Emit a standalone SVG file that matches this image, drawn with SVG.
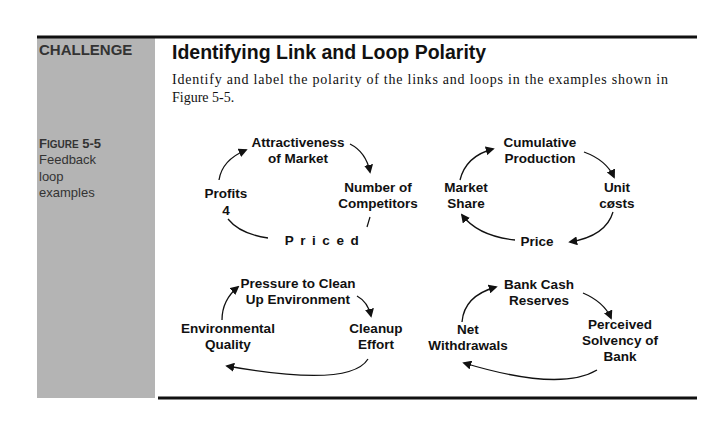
<svg xmlns="http://www.w3.org/2000/svg" width="712" height="438" viewBox="0 0 712 438">
<style>
.n{font-family:"Liberation Sans",Arial,sans-serif;font-weight:bold;font-size:13.5px;fill:#111;text-anchor:middle}
.c{fill:none;stroke:#111;stroke-width:1.3;marker-end:url(#a)}
.s{font-family:"Liberation Sans",Arial,sans-serif;font-size:13px;fill:#333}
</style>
<defs><marker id="a" viewBox="0 0 10 10" refX="8" refY="5" markerWidth="9" markerHeight="9" markerUnits="userSpaceOnUse" orient="auto"><path d="M0,0L10,5L0,10z" fill="#111"/></marker></defs>
<rect width="712" height="438" fill="#fff"/>
<rect x="37" y="37" width="118" height="361" fill="#b4b4b4"/>
<line x1="37" y1="37" x2="697" y2="37" stroke="#111" stroke-width="3"/>
<line x1="158" y1="398" x2="697" y2="398" stroke="#111" stroke-width="3"/>
<text x="39" y="55" font-family="Liberation Sans,Arial,sans-serif" font-weight="bold" font-size="15" fill="#333">CHALLENGE</text>
<text x="39" y="148" class="s" font-weight="bold">F<tspan font-size="10">IGURE</tspan> 5-5</text>
<text x="39" y="164" class="s">Feedback</text>
<text x="39" y="181" class="s">loop</text>
<text x="39" y="197" class="s">examples</text>
<text x="172" y="59" font-family="Liberation Sans,Arial,sans-serif" font-weight="bold" font-size="19.5" fill="#111">Identifying Link and Loop Polarity</text>
<text font-family="Liberation Serif,serif" font-size="14" fill="#111"><tspan x="172" y="84" textLength="496">Identify and label the polarity of the links and loops in the examples shown in</tspan><tspan x="172" y="102">Figure 5-5.</tspan></text>
<g id="connectors">
<path class="c" d="M219,180 Q222,160 246,150"/>
<path class="c" d="M350,144 Q366,152 370,172"/>
<path d="M370,217 L367,227" stroke="#111" stroke-width="1.2"/>
<path d="M268,238 Q240,234 228,219" fill="none" stroke="#111" stroke-width="1.3"/>
<path class="c" d="M460,180 Q466,156 493,149"/>
<path class="c" d="M584,152 Q606,160 614,177"/>
<path class="c" d="M613,212 Q606,236 570,242"/>
<path class="c" d="M515,240 Q478,236 462,215"/>
<path class="c" d="M222,320 Q222,300 238,287"/>
<path class="c" d="M357,296 Q368,302 371,316"/>
<path class="c" d="M368,359 Q350,388 227,366"/>
<path class="c" d="M462,322 Q464,296 496,287"/>
<path class="c" d="M583,293 Q604,302 611,318"/>
<path class="c" d="M597,370 Q560,392 464,363"/>
</g>
<g id="attractiveness"><text class="n" x="298" y="147">Attractiveness</text><text class="n" x="298" y="163">of Market</text></g>
<g id="competitors"><text class="n" x="378" y="192">Number of</text><text class="n" x="378" y="208">Competitors</text></g>
<g id="profits"><text class="n" x="226" y="198">Profits</text><text class="n" x="226" y="215" font-size="16">4</text></g>
<g id="priced"><text class="n" x="325" y="245" letter-spacing="6.5">Priced</text></g>
<g id="cumulative"><text class="n" x="540" y="147">Cumulative</text><text class="n" x="540" y="163">Production</text></g>
<g id="unit"><text class="n" x="617" y="192">Unit</text><text class="n" x="617" y="208">cøsts</text></g>
<g id="price"><text class="n" x="537" y="246">Price</text></g>
<g id="share"><text class="n" x="466" y="192">Market</text><text class="n" x="466" y="208">Share</text></g>
<g id="pressure"><text class="n" x="298" y="288">Pressure to Clean</text><text class="n" x="298" y="304">Up Environment</text></g>
<g id="quality"><text class="n" x="228" y="333">Environmental</text><text class="n" x="228" y="349">Quality</text></g>
<g id="cleanup"><text class="n" x="376" y="333">Cleanup</text><text class="n" x="376" y="349">Effort</text></g>
<g id="cash"><text class="n" x="539" y="289">Bank Cash</text><text class="n" x="539" y="305">Reserves</text></g>
<g id="withdrawals"><text class="n" x="468" y="334">Net</text><text class="n" x="468" y="350">Withdrawals</text></g>
<g id="solvency"><text class="n" x="620" y="329">Perceived</text><text class="n" x="620" y="345">Solvency of</text><text class="n" x="620" y="361">Bank</text></g>
</svg>
